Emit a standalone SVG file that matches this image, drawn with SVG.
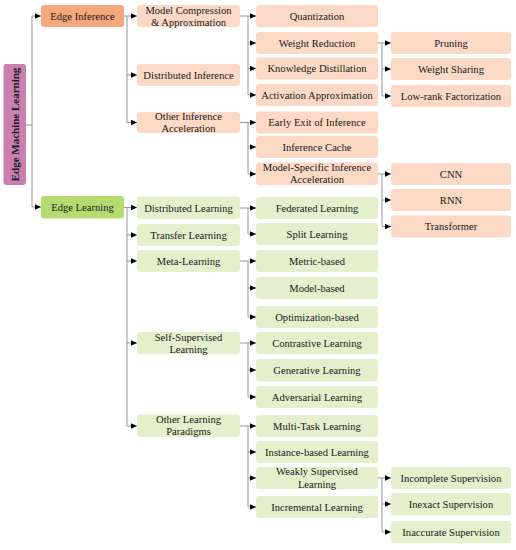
<svg xmlns="http://www.w3.org/2000/svg" width="516" height="550" viewBox="0 0 516 550">
<style>
text{font-family:"Liberation Serif","Times New Roman",serif;font-size:10.6px;fill:#1a1a1a;text-anchor:middle}
.p{fill:#fcd9c5}
.g{fill:#e3f0cb}
.c{stroke:#999;stroke-width:1;fill:none}
.a{stroke:#999;stroke-width:1;fill:none;marker-end:url(#ar)}
</style>
<defs>
<marker id="ar" markerUnits="userSpaceOnUse" markerWidth="7" markerHeight="6" refX="6.5" refY="3" orient="auto">
<path d="M0,0 L6.5,3 L0,6 z" fill="#000"/>
</marker>
</defs>
<rect width="516" height="550" fill="#fff"/>
<g id="connectors">
<!-- root -->
<path class="c" d="M26,125 H32 M32,16 V207"/>
<path class="a" d="M32,16 H41"/>
<path class="a" d="M32,207 H41"/>
<!-- edge inference -->
<path class="c" d="M124,16 H127 V122.5"/>
<path class="a" d="M127,16 H137"/>
<path class="a" d="M127,75 H137"/>
<path class="a" d="M127,122.5 H137"/>
<!-- MCA -->
<path class="c" d="M240,16 H248 V95"/>
<path class="a" d="M248,16 H256"/>
<path class="a" d="M248,43 H256"/>
<path class="a" d="M248,68.5 H256"/>
<path class="a" d="M248,95 H256"/>
<!-- Weight reduction -->
<path class="c" d="M378,43 H382 V96"/>
<path class="a" d="M382,43 H391"/>
<path class="a" d="M382,69 H391"/>
<path class="a" d="M382,96 H391"/>
<!-- OIA -->
<path class="c" d="M240,122.5 H248 V174"/>
<path class="a" d="M248,122.5 H256"/>
<path class="a" d="M248,147 H256"/>
<path class="a" d="M248,174 H256"/>
<!-- model specific -->
<path class="c" d="M378,174 H382 V226.5"/>
<path class="a" d="M382,174 H391"/>
<path class="a" d="M382,200 H391"/>
<path class="a" d="M382,226.5 H391"/>
<!-- edge learning -->
<path class="c" d="M124,207.5 H127 V426"/>
<path class="a" d="M127,207.5 H137"/>
<path class="a" d="M127,235 H137"/>
<path class="a" d="M127,261 H137"/>
<path class="a" d="M127,343 H137"/>
<path class="a" d="M127,426 H137"/>
<!-- distributed learning -->
<path class="c" d="M240,208 H248 V234"/>
<path class="a" d="M248,208 H256"/>
<path class="a" d="M248,234 H256"/>
<!-- meta -->
<path class="c" d="M240,261 H248 V317"/>
<path class="a" d="M248,261 H256"/>
<path class="a" d="M248,288 H256"/>
<path class="a" d="M248,317 H256"/>
<!-- ssl -->
<path class="c" d="M240,343 H248 V397"/>
<path class="a" d="M248,343 H256"/>
<path class="a" d="M248,370 H256"/>
<path class="a" d="M248,397 H256"/>
<!-- olp -->
<path class="c" d="M240,426 H248 V507"/>
<path class="a" d="M248,426 H256"/>
<path class="a" d="M248,452 H256"/>
<path class="a" d="M248,478 H256"/>
<path class="a" d="M248,507 H256"/>
<!-- weakly -->
<path class="c" d="M378,478 H382 V532"/>
<path class="a" d="M382,478 H391"/>
<path class="a" d="M382,504 H391"/>
<path class="a" d="M382,532 H391"/>
</g>
<g id="n-root"><rect x="3.5" y="64" width="22.5" height="121" rx="3" fill="#c97fb0"/><text transform="translate(18.5,124.5) rotate(-90)" style="font-weight:bold;font-size:11px">Edge Machine Learning</text></g>
<g id="n-ei"><rect x="41" y="5" width="83" height="22" rx="3" fill="#f5a67d"/><text x="82.5" y="19.7">Edge Inference</text></g>
<g id="n-el"><rect x="41" y="196" width="83" height="22.5" rx="3" fill="#b4db6f"/><text x="82.5" y="211">Edge Learning</text></g>
<g id="n-mca"><rect class="p" x="137" y="5" width="103" height="22" rx="3"/><text x="188.5" y="13.6">Model Compression</text><text x="188.5" y="26.2">&amp; Approximation</text></g>
<g id="n-di"><rect class="p" x="137" y="64" width="103" height="22" rx="3"/><text x="188.5" y="78.7">Distributed Inference</text></g>
<g id="n-oia"><rect class="p" x="137" y="112" width="103" height="21" rx="3"/><text x="188.5" y="120.3">Other Inference</text><text x="188.5" y="132">Acceleration</text></g>
<g id="n-q"><rect class="p" x="256" y="5" width="122" height="22" rx="3"/><text x="317" y="19.7">Quantization</text></g>
<g id="n-wr"><rect class="p" x="256" y="32" width="122" height="22" rx="3"/><text x="317" y="46.7">Weight Reduction</text></g>
<g id="n-kd"><rect class="p" x="256" y="57.5" width="122" height="22" rx="3"/><text x="317" y="72.2">Knowledge Distillation</text></g>
<g id="n-aa"><rect class="p" x="256" y="84" width="122" height="22" rx="3"/><text x="317" y="98.7">Activation Approximation</text></g>
<g id="n-ee"><rect class="p" x="256" y="111.5" width="122" height="22" rx="3"/><text x="317" y="126.2">Early Exit of Inference</text></g>
<g id="n-ic"><rect class="p" x="256" y="136" width="122" height="22" rx="3"/><text x="317" y="150.7">Inference Cache</text></g>
<g id="n-ms"><rect class="p" x="256" y="162.5" width="122" height="22.5" rx="3"/><text x="317" y="170.5">Model-Specific Inference</text><text x="317" y="183.2">Acceleration</text></g>
<g id="n-pr"><rect class="p" x="391" y="32" width="120" height="22" rx="3"/><text x="451" y="46.7">Pruning</text></g>
<g id="n-ws"><rect class="p" x="391" y="58" width="120" height="22" rx="3"/><text x="451" y="72.7">Weight Sharing</text></g>
<g id="n-lr"><rect class="p" x="391" y="85" width="120" height="22" rx="3"/><text x="451" y="99.7">Low-rank Factorization</text></g>
<g id="n-cnn"><rect class="p" x="391" y="163" width="120" height="22" rx="3"/><text x="451" y="177.7">CNN</text></g>
<g id="n-rnn"><rect class="p" x="391" y="189" width="120" height="22" rx="3"/><text x="451" y="203.7">RNN</text></g>
<g id="n-tr"><rect class="p" x="391" y="215.5" width="120" height="22" rx="3"/><text x="451" y="230.2">Transformer</text></g>
<g id="n-dl"><rect class="g" x="137" y="196.5" width="103" height="22.5" rx="3"/><text x="188.5" y="211.5">Distributed Learning</text></g>
<g id="n-tl"><rect class="g" x="137" y="224" width="103" height="22" rx="3"/><text x="188.5" y="238.7">Transfer Learning</text></g>
<g id="n-ml"><rect class="g" x="137" y="250" width="103" height="22" rx="3"/><text x="188.5" y="264.7">Meta-Learning</text></g>
<g id="n-ssl"><rect class="g" x="137" y="332" width="103" height="22" rx="3"/><text x="188.5" y="340.5">Self-Supervised</text><text x="188.5" y="353">Learning</text></g>
<g id="n-olp"><rect class="g" x="137" y="414.5" width="103" height="22.5" rx="3"/><text x="188.5" y="422.5">Other Learning</text><text x="188.5" y="435">Paradigms</text></g>
<g id="n-fl"><rect class="g" x="256" y="197" width="122" height="22" rx="3"/><text x="317" y="211.7">Federated Learning</text></g>
<g id="n-sl"><rect class="g" x="256" y="223" width="122" height="22" rx="3"/><text x="317" y="237.7">Split Learning</text></g>
<g id="n-mb"><rect class="g" x="256" y="250" width="122" height="22" rx="3"/><text x="317" y="264.7">Metric-based</text></g>
<g id="n-mdb"><rect class="g" x="256" y="277" width="122" height="22" rx="3"/><text x="317" y="291.7">Model-based</text></g>
<g id="n-ob"><rect class="g" x="256" y="306" width="122" height="22" rx="3"/><text x="317" y="320.7">Optimization-based</text></g>
<g id="n-cl"><rect class="g" x="256" y="332" width="122" height="22" rx="3"/><text x="317" y="346.7">Contrastive Learning</text></g>
<g id="n-gl"><rect class="g" x="256" y="359" width="122" height="22.5" rx="3"/><text x="317" y="374">Generative Learning</text></g>
<g id="n-al"><rect class="g" x="256" y="386" width="122" height="22" rx="3"/><text x="317" y="400.7">Adversarial Learning</text></g>
<g id="n-mt"><rect class="g" x="256" y="415" width="122" height="22" rx="3"/><text x="317" y="429.7">Multi-Task Learning</text></g>
<g id="n-ib"><rect class="g" x="256" y="441" width="122" height="22" rx="3"/><text x="317" y="455.7">Instance-based Learning</text></g>
<g id="n-wsl"><rect class="g" x="256" y="467" width="122" height="22" rx="3"/><text x="317" y="475.2">Weakly Supervised</text><text x="317" y="487.5">Learning</text></g>
<g id="n-il"><rect class="g" x="256" y="496" width="122" height="22" rx="3"/><text x="317" y="510.7">Incremental Learning</text></g>
<g id="n-ics"><rect class="g" x="391" y="467" width="120" height="22" rx="3"/><text x="451" y="481.7">Incomplete Supervision</text></g>
<g id="n-ies"><rect class="g" x="391" y="493" width="120" height="22.5" rx="3"/><text x="451" y="508">Inexact Supervision</text></g>
<g id="n-ias"><rect class="g" x="391" y="521" width="120" height="22" rx="3"/><text x="451" y="535.7">Inaccurate Supervision</text></g>
</svg>
